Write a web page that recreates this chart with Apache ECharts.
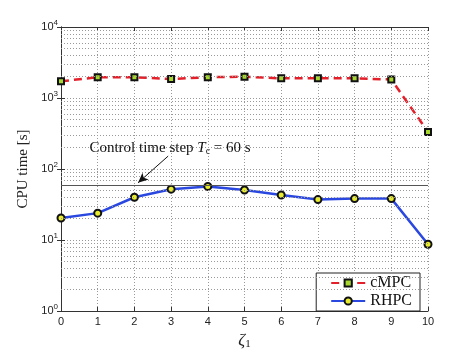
<!DOCTYPE html>
<html><head><meta charset="utf-8">
<script src="https://cdn.jsdelivr.net/npm/echarts@6/dist/echarts.min.js"></script>
<style>html,body{margin:0;padding:0;background:#fff}#c{width:474px;height:355px}</style>
</head><body><div id="c"></div>
<script>
const zeta = [0,1,2,3,4,5,6,7,8,9,10];
const cMPC = [1720,1960,1960,1850,1960,2000,1890,1890,1890,1820,333];
const RHPC = [20.4,23.9,40,52,56.8,50.6,43.1,37.1,38.3,38.3,8.7];
const controlStep = 60;
const yMin = 1, yMax = 10000;
const minorMultipliers = [2,3,4,5,6,7,8,9];
const decades = [1,10,100,1000];
const minorGrid = [];
decades.forEach(d => minorMultipliers.forEach(m => minorGrid.push(d*m)));

const serif = 'Liberation Serif';
const sans = 'Liberation Sans';
const chart = echarts.init(document.getElementById('c'));
const supLabel = {
  formatter: v => '{b|10}{s|' + Math.round(Math.log10(v)) + '}',
  rich: {
    b: {fontSize: 11, fontFamily: sans, color: '#222'},
    s: {fontSize: 8, fontFamily: sans, color: '#222', padding: [0,0,8,0]}
  }
};
const dotted = {color: '#999', type: [1,2], width: 1};
chart.setOption({
  backgroundColor: '#fff',
  animation: false,
  grid: {left: 61, top: 27, width: 367, height: 288},
  xAxis: [{
    type: 'value', min: 0, max: 10, interval: 1,
    name: '{z|ζ}{s|1}', nameLocation: 'middle', nameGap: 20,
    nameTextStyle: {rich: {z: {fontFamily: serif, fontSize: 17, fontStyle: 'italic', color: '#222'}, s: {fontFamily: serif, fontSize: 11, color: '#222', padding: [8,0,0,0]}}},
    axisLine: {lineStyle: {color: '#333', width: 1}},
    axisTick: {inside: true, length: 4, lineStyle: {color: '#333'}},
    axisLabel: {fontFamily: sans, fontSize: 11, color: '#222', margin: 5},
    splitLine: {show: true, lineStyle: dotted}
  }, {
    type: 'value', min: 0, max: 10, interval: 1, position: 'top',
    axisLine: {lineStyle: {color: '#333', width: 1}},
    axisTick: {inside: true, length: 4, lineStyle: {color: '#333'}},
    axisLabel: {show: false}, splitLine: {show: false}
  }],
  yAxis: [{
    type: 'log', logBase: 10, min: yMin, max: yMax,
    name: 'CPU time [s]', nameLocation: 'middle', nameGap: 22,
    nameTextStyle: {fontFamily: serif, fontSize: 15, color: '#222'},
    axisLine: {show: true, lineStyle: {color: '#333', width: 1}},
    axisTick: {inside: true, length: 4, lineStyle: {color: '#333'}},
    axisLabel: Object.assign({margin: 3}, supLabel),
    splitLine: {show: true, lineStyle: dotted}
  }, {
    type: 'log', logBase: 10, min: yMin, max: yMax, position: 'right',
    axisLine: {show: true, lineStyle: {color: '#333', width: 1}},
    axisTick: {inside: true, length: 4, lineStyle: {color: '#333'}},
    axisLabel: {show: false}, splitLine: {show: false}
  }],
  legend: {
    data: ['cMPC', 'RHPC'], orient: 'vertical', right: 54, bottom: 44,
    backgroundColor: '#fff', borderColor: '#222', borderWidth: 1,
    padding: [2, 8, 2, 14], itemGap: 2, itemWidth: 34, itemHeight: 9,
    textStyle: {fontFamily: serif, fontSize: 16, color: '#111'}
  },
  series: [{
    type: 'line', name: 'grid', data: [], z: 1, silent: true,
    markLine: {
      silent: true, symbol: 'none', label: {show: false},
      lineStyle: dotted,
      data: minorGrid.map(v => ({yAxis: v}))
    }
  }, {
    type: 'line', name: 'annot', data: [], z: 2, silent: true,
    markLine: {
      silent: true, symbol: ['none','none'], label: {show: false},
      lineStyle: {color: '#555', type: 'solid', width: 1},
      data: [{yAxis: controlStep}]
    }
  }, {
    type: 'line', name: 'arrow', data: [], z: 2, silent: true,
    markLine: {
      silent: true, symbol: ['none','arrow'], symbolSize: [7, 10], label: {show: false},
      lineStyle: {color: '#111', type: 'solid', width: 1},
      data: [[{coord: [2.92, 152]}, {coord: [2.10, 64]}]]
    },
    markPoint: {
      silent: true, symbol: 'circle', symbolSize: 0,
      label: {show: true, position: 'inside',
        formatter: 'Control time step {i|T}{sub|c} = 60 s',
        fontFamily: serif, fontSize: 15, color: '#111',
        rich: {i: {fontFamily: serif, fontSize: 15, fontStyle: 'italic', color: '#111'}, sub: {fontFamily: serif, fontSize: 10, color: '#111', padding: [6,0,0,0]}}},
      data: [{coord: [2.97, 196]}]
    }
  }, {
    type: 'line', name: 'cMPC', z: 3,
    data: zeta.map((x, i) => [x, cMPC[i]]),
    symbol: 'rect', symbolSize: 6,
    lineStyle: {color: '#e3202a', width: 2.5, type: [8, 5]},
    itemStyle: {color: '#a8d830', borderColor: '#111', borderWidth: 2}
  }, {
    type: 'line', name: 'RHPC', z: 3,
    data: zeta.map((x, i) => [x, RHPC[i]]),
    symbol: 'circle', symbolSize: 7,
    lineStyle: {color: '#2a48e0', width: 2.5},
    itemStyle: {color: '#e8ec30', borderColor: '#111', borderWidth: 2}
  }]
});
</script></body></html>
